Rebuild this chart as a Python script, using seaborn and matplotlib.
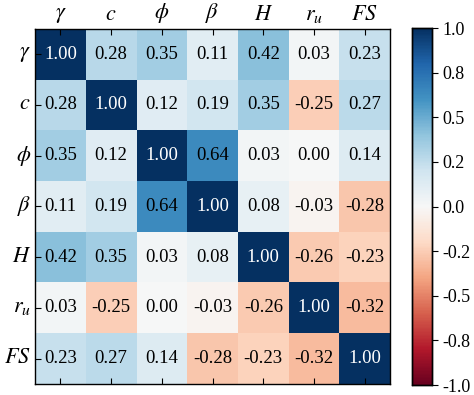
import numpy as np
import pandas as pd
import seaborn as sns
import matplotlib
matplotlib.use('Agg')
from matplotlib import pyplot as plt
from matplotlib.ticker import FormatStrFormatter

labels = [r'$\gamma$', r'$c$', r'$\phi$', r'$\beta$', r'$H$', r'$r_u$', r'$FS$']

row_gamma = [1.00, 0.28, 0.35, 0.11, 0.42, 0.03, 0.23]
row_c = [0.28, 1.00, 0.12, 0.19, 0.35, -0.25, 0.27]
row_phi = [0.35, 0.12, 1.00, 0.64, 0.03, 0.00, 0.14]
row_beta = [0.11, 0.19, 0.64, 1.00, 0.08, -0.03, -0.28]
row_H = [0.42, 0.35, 0.03, 0.08, 1.00, -0.26, -0.23]
row_ru = [0.03, -0.25, 0.00, -0.03, -0.26, 1.00, -0.32]
row_FS = [0.23, 0.27, 0.14, -0.28, -0.23, -0.32, 1.00]

corr = pd.DataFrame([row_gamma, row_c, row_phi, row_beta, row_H, row_ru, row_FS],
                    index=labels, columns=labels)

plt.rcParams['font.family'] = ['Liberation Serif', 'DejaVu Serif']
plt.rcParams['mathtext.fontset'] = 'stix'

fig = plt.figure(figsize=(4.74, 3.95), dpi=100)
ax = fig.add_axes([0.074, 0.028, 0.749, 0.899])
cax = fig.add_axes([0.869, 0.025, 0.042, 0.904])

sns.heatmap(corr, ax=ax, cbar_ax=cax, cmap='RdBu', vmin=-1, vmax=1,
            annot=True, fmt='.2f', annot_kws={'fontsize': 13.5, 'color': 'black'},
            square=False)

for t in ax.texts:
    if t.get_text() == '1.00':
        t.set_color('white')

ax.xaxis.tick_top()
ax.tick_params(axis='both', direction='in', length=4, labelsize=16, pad=3)
ax.tick_params(axis='x', top=True, bottom=True)
ax.set_yticklabels(labels, rotation=0)
ax.set_xticklabels(labels, rotation=0)
for s in ax.spines.values():
    s.set_visible(True)
    s.set_linewidth(1.0)

cax.set_yticks(np.arange(-1, 1.01, 0.25))
cax.yaxis.set_major_formatter(FormatStrFormatter('%.1f'))
cax.tick_params(labelsize=13, length=4)
for s in cax.spines.values():
    s.set_visible(True)
    s.set_linewidth(1.0)

fig.savefig('out.png', dpi=100)
